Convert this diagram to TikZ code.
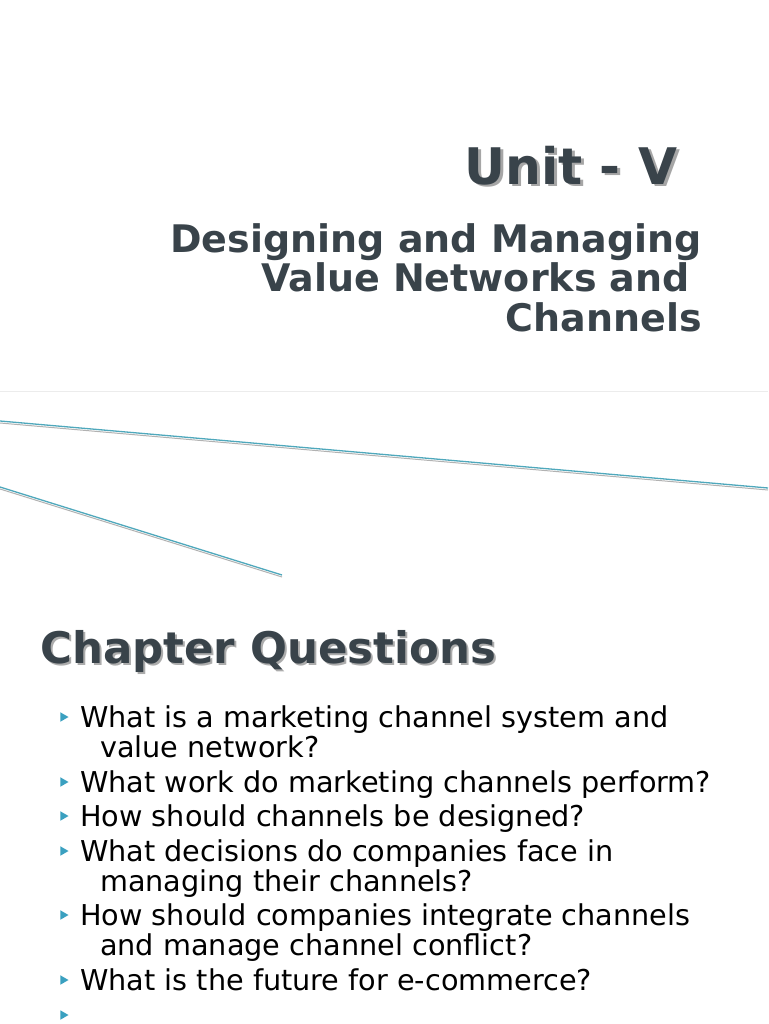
\documentclass[tikz,border=0pt]{standalone}
\usepackage{fontspec}
\usetikzlibrary{shapes.geometric}
\setmainfont{DejaVu Sans}
\begin{document}
\begin{tikzpicture}[x=1pt,y=-1pt,
  ttl/.style={font=\bfseries\fontsize{50.4}{54}\selectfont,inner sep=0pt,anchor=base west},
  cqs/.style={font=\bfseries\fontsize{43.5}{48}\selectfont,inner sep=0pt,anchor=base west},
  sub/.style={font=\bfseries\fontsize{38}{42}\selectfont,text=subc,inner sep=0pt,anchor=base east},
  item/.style={font=\fontsize{28.7}{32}\selectfont,inner sep=0pt,anchor=base west},
  bul/.style={fill=bulc,regular polygon,regular polygon sides=3,shape border rotate=-90,inner sep=0pt,minimum size=11pt},
  cline/.style={draw=linec,line width=1.3pt},
  sline/.style={draw=gray!60,line width=1pt}]
\definecolor{subc}{HTML}{39434A}
\definecolor{bulc}{HTML}{3AA0C0}
\definecolor{linec}{HTML}{4FA8BC}
\useasboundingbox (0,0) rectangle (768,1024);
\fill[white] (0,0) rectangle (768,1024);
% title
\node[ttl,text=gray!70] at (467,187) {Unit - V};
\node[ttl,text=subc] (t) at (464,185) {Unit - V};
\node[sub] (s1) at (702,252) {Designing and Managing};
\node[sub] (s2) at (690,291) {Value Networks and};
\node[sub] (s3) at (702,331) {Channels};
% divider and lines
\draw[gray!15,line width=0.8pt] (0,391) -- (768,391);
\coordinate (a1) at (0,421); \coordinate (a2) at (768,488);
\coordinate (b1) at (0,487); \coordinate (b2) at (282,575);
\draw[sline] ([yshift=-2pt]a1) -- ([yshift=-2pt]a2);
\draw[cline] (a1) -- (a2);
\draw[sline] ([yshift=-2pt]b1) -- ([yshift=-2pt]b2);
\draw[cline] (b1) -- (b2);
% chapter questions
\node[cqs,text=gray!65] at (42,665) {Chapter Questions};
\node[cqs,text=subc] (cq) at (40,663) {Chapter Questions};
\newcommand{\qitem}[3]{\node[bul] at (63,#1-10) {}; \node[item] (#3) at (80,#1) {#2};}
\qitem{727}{What is a marketing channel system and}{q1}
\node[item] (q1b) at (100,757) {value network?};
\qitem{792}{What work do marketing channels perform?}{q2}
\qitem{826}{How should channels be designed?}{q3}
\qitem{861}{What decisions do companies face in}{q4}
\node[item] (q4b) at (100,891) {managing their channels?};
\qitem{925}{How should companies integrate channels}{q5}
\node[item] (q5b) at (100,955) {and manage channel conflict?};
\qitem{990}{What is the future for e-commerce?}{q6}
\node[bul] (q7) at (63,1015) {};
\end{tikzpicture}
\end{document}
